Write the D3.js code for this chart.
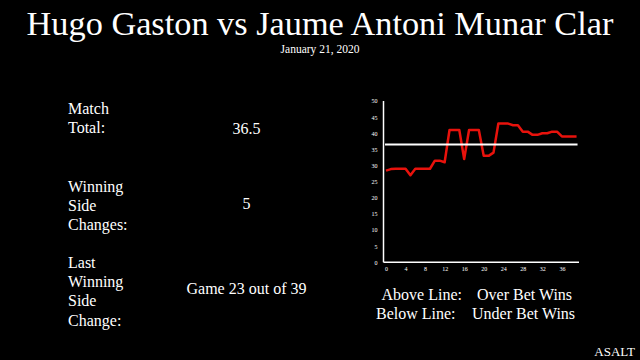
<!DOCTYPE html>
<html><head><meta charset="utf-8">
<script src="https://cdn.jsdelivr.net/npm/d3@7"></script>
<style>html,body{margin:0;padding:0;background:#000;}svg{display:block;}</style>
</head><body>
<script>
const title = "Hugo Gaston vs Jaume Antoni Munar Clar";
const subtitle = "January 21, 2020";
const matchTotal = 36.5;
const games = d3.range(0, 40);
const totals = [28.4,28.9,29,29,29,27,29,29,29,29,31.5,31.5,31,41,41,41,32,41,41,41,33,33,34,43,43,43,42.5,42.5,40.5,40.5,39.5,39.5,40,40,40.5,40.5,39,39,39,39];
const xTicks = [0,4,8,12,16,20,24,28,32,36];
const yTicks = [0,5,10,15,20,25,30,35,40,45,50];
const changes = 5;
const lastChange = "Game 23 out of 39";

const W = 640, H = 360;
const font = "Liberation Serif";
const svg = d3.select("body").append("svg").attr("width", W).attr("height", H)
  .style("background", "#000");

function txt(parent, xx, yy, t, size, anchor) {
  return parent.append("text").attr("x", xx).attr("y", yy)
    .attr("text-anchor", anchor || "start").attr("fill", "#fff")
    .attr("font-family", font).attr("font-size", size).text(t);
}

txt(svg, 320, 35, title, 34.3, "middle");
txt(svg, 320, 52.5, subtitle, 11.5, "middle");

// left panel
const lab = svg.append("g");
function lines(arr, xx, y0) {
  arr.forEach((t, i) => txt(lab, xx, y0 + i * 19.2, t, 16));
}
lines(["Match", "Total:"], 68, 114);
lines(["Winning", "Side", "Changes:"], 68, 191.5);
lines(["Last", "Winning", "Side", "Change:"], 68, 268);
txt(lab, 246.5, 134, d3.format(".1f")(matchTotal), 16, "middle");
txt(lab, 246.5, 209, changes, 16, "middle");
txt(lab, 246.5, 294, lastChange, 16, "middle");

// chart
const x = d3.scaleLinear().domain([0, 39.5]).range([386, 579]);
const y = d3.scaleLinear().domain([0, 50]).range([262.3, 101]);

const gx = svg.append("g").attr("transform", `translate(0,${y(0)})`)
  .call(d3.axisBottom(x).tickValues(xTicks).tickSize(0).tickPadding(4));
const gy = svg.append("g").attr("transform", `translate(383.5,0)`)
  .call(d3.axisLeft(y).tickValues(yTicks).tickSize(0).tickPadding(6));
[gx, gy].forEach(g => {
  g.selectAll("text").attr("fill", "#fff").attr("font-size", 6).attr("font-family", font);
  g.select(".domain").attr("stroke", "#fff").attr("stroke-width", 1.5);
});
gx.select(".domain").attr("d", `M383.5,0H${x(39.5)}`);
gy.select(".domain").attr("d", `M0,${y(0)}V${y(50)}`);

svg.append("path").datum(games)
  .attr("fill", "none").attr("stroke", "#e8120c").attr("stroke-width", 2.5)
  .attr("stroke-linejoin", "round")
  .attr("d", d3.line().x(d => x(d)).y(d => y(totals[d])));

svg.append("line").attr("x1", x(-0.2)).attr("x2", x(39.2))
  .attr("y1", y(matchTotal)).attr("y2", y(matchTotal))
  .attr("stroke", "#fff").attr("stroke-width", 2);

const leg = svg.append("g");
txt(leg, 381.5, 300, "Above Line:", 16);
txt(leg, 477, 300, "Over Bet Wins", 16);
txt(leg, 376, 319, "Below Line:", 16);
txt(leg, 472, 319, "Under Bet Wins", 16);

txt(svg, 635, 356, "ASALT", 13, "end");
</script>
</body></html>
